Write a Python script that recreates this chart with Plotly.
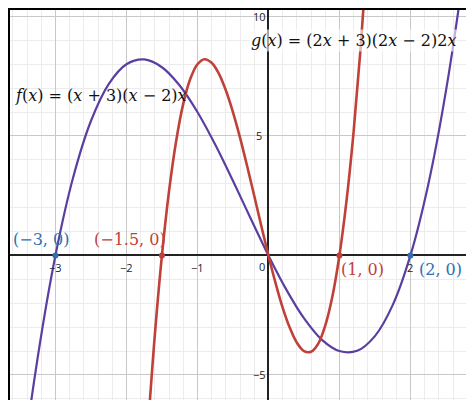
import plotly.graph_objects as go

fx = [-3.75,-3.5,-3.25,-3,-2.75,-2.5,-2.25,-2,-1.75,-1.5,-1.25,-1,-0.75,-0.5,-0.25,0,0.25,0.5,0.75,1,1.25,1.5,1.75,2,2.25,2.5,2.75,3]
fy = [-16.17,-9.625,-4.27,0,3.27,5.625,7.17,8,8.20,7.875,7.11,6,4.64,3.125,1.547,0,-1.42,-2.625,-3.52,-4,-3.99,-3.375,-2.08,0,2.95,6.875,11.86,18]
gx = [-1.7,-1.6,-1.5,-1.4,-1.3,-1.2,-1.1,-1,-0.9,-0.8,-0.7,-0.6,-0.5,-0.4,-0.3,-0.2,-0.1,0,0.1,0.2,0.3,0.4,0.5,0.6,0.7,0.8,0.9,1.0,1.1,1.2,1.3,1.4]
gy = [-7.34,-3.33,0,2.69,4.78,6.34,7.39,8,8.21,8.06,7.62,6.91,6,4.93,3.74,2.50,1.23,0,-1.15,-2.18,-3.02,-3.65,-4,-4.03,-3.70,-2.94,-1.73,0,2.29,5.18,8.74,12.99]
xticks = [-3,-2,-1,2]
yticks = [5,10,-5]
purple, red, blue = "#5b3fa0", "#c0403a", "#2d70b3"

fig = go.Figure()
fig.add_trace(go.Scatter(x=fx, y=fy, mode="lines", line=dict(color=purple, width=2.2, shape="spline")))
fig.add_trace(go.Scatter(x=gx, y=gy, mode="lines", line=dict(color=red, width=2.6, shape="spline")))
fig.add_trace(go.Scatter(x=[-3, 2], y=[0, 0], mode="markers", marker=dict(color=blue, size=6)))
fig.add_trace(go.Scatter(x=[-1.5, 1], y=[0, 0], mode="markers", marker=dict(color=red, size=6)))

ann = []
for t in xticks:
    ann.append(dict(x=t, y=0, text=str(t).replace("-", "−"), showarrow=False, yshift=-12, font=dict(size=11, color="#222")))
for t in yticks:
    ann.append(dict(x=0, y=t, text=str(t).replace("-", "−"), showarrow=False, xshift=-9, font=dict(size=11, color="#222")))
ann.append(dict(x=0, y=0, text="0", showarrow=False, xshift=-6, yshift=-11, font=dict(size=11, color="#222")))
lab = dict(showarrow=False, font=dict(family="DejaVu Serif", size=16))
ann += [
    dict(x=-3.63, y=0.65, xanchor="left", text="(−3, 0)", font_color=blue, **lab),
    dict(x=-1.95, y=0.65, text="(−1.5, 0)", font_color=red, **lab),
    dict(x=1.32, y=-0.6, text="(1, 0)", font_color=red, **lab),
    dict(x=2.43, y=-0.6, text="(2, 0)", font_color=blue, **lab),
    dict(x=-3.6, y=6.7, xanchor="left", text="<i>f</i>(<i>x</i>) = (<i>x</i> + 3)(<i>x</i> − 2)<i>x</i>", font_color="#111", **lab),
    dict(x=1.2, y=9.0, text="<i>g</i>(<i>x</i>) = (2<i>x</i> + 3)(2<i>x</i> − 2)2<i>x</i>", font_color="#111", bgcolor="rgba(255,255,255,0.6)", **lab),
]
fig.update_layout(
    width=474, height=400, margin=dict(l=2, r=2, t=2, b=2),
    plot_bgcolor="white", paper_bgcolor="black", showlegend=False, annotations=ann,
    xaxis=dict(range=[-3.64, 2.98], dtick=1, gridcolor="#c8c8c8", gridwidth=1, showticklabels=False,
               zeroline=True, zerolinecolor="#222", zerolinewidth=1.5,
               minor=dict(dtick=0.2, gridcolor="#ececec", showgrid=True)),
    yaxis=dict(range=[-6.3, 10.27], dtick=5, gridcolor="#c8c8c8", gridwidth=1, showticklabels=False,
               zeroline=True, zerolinecolor="#222", zerolinewidth=1.5,
               minor=dict(dtick=1, gridcolor="#ececec", showgrid=True)),
)
fig.write_html("out.html")
